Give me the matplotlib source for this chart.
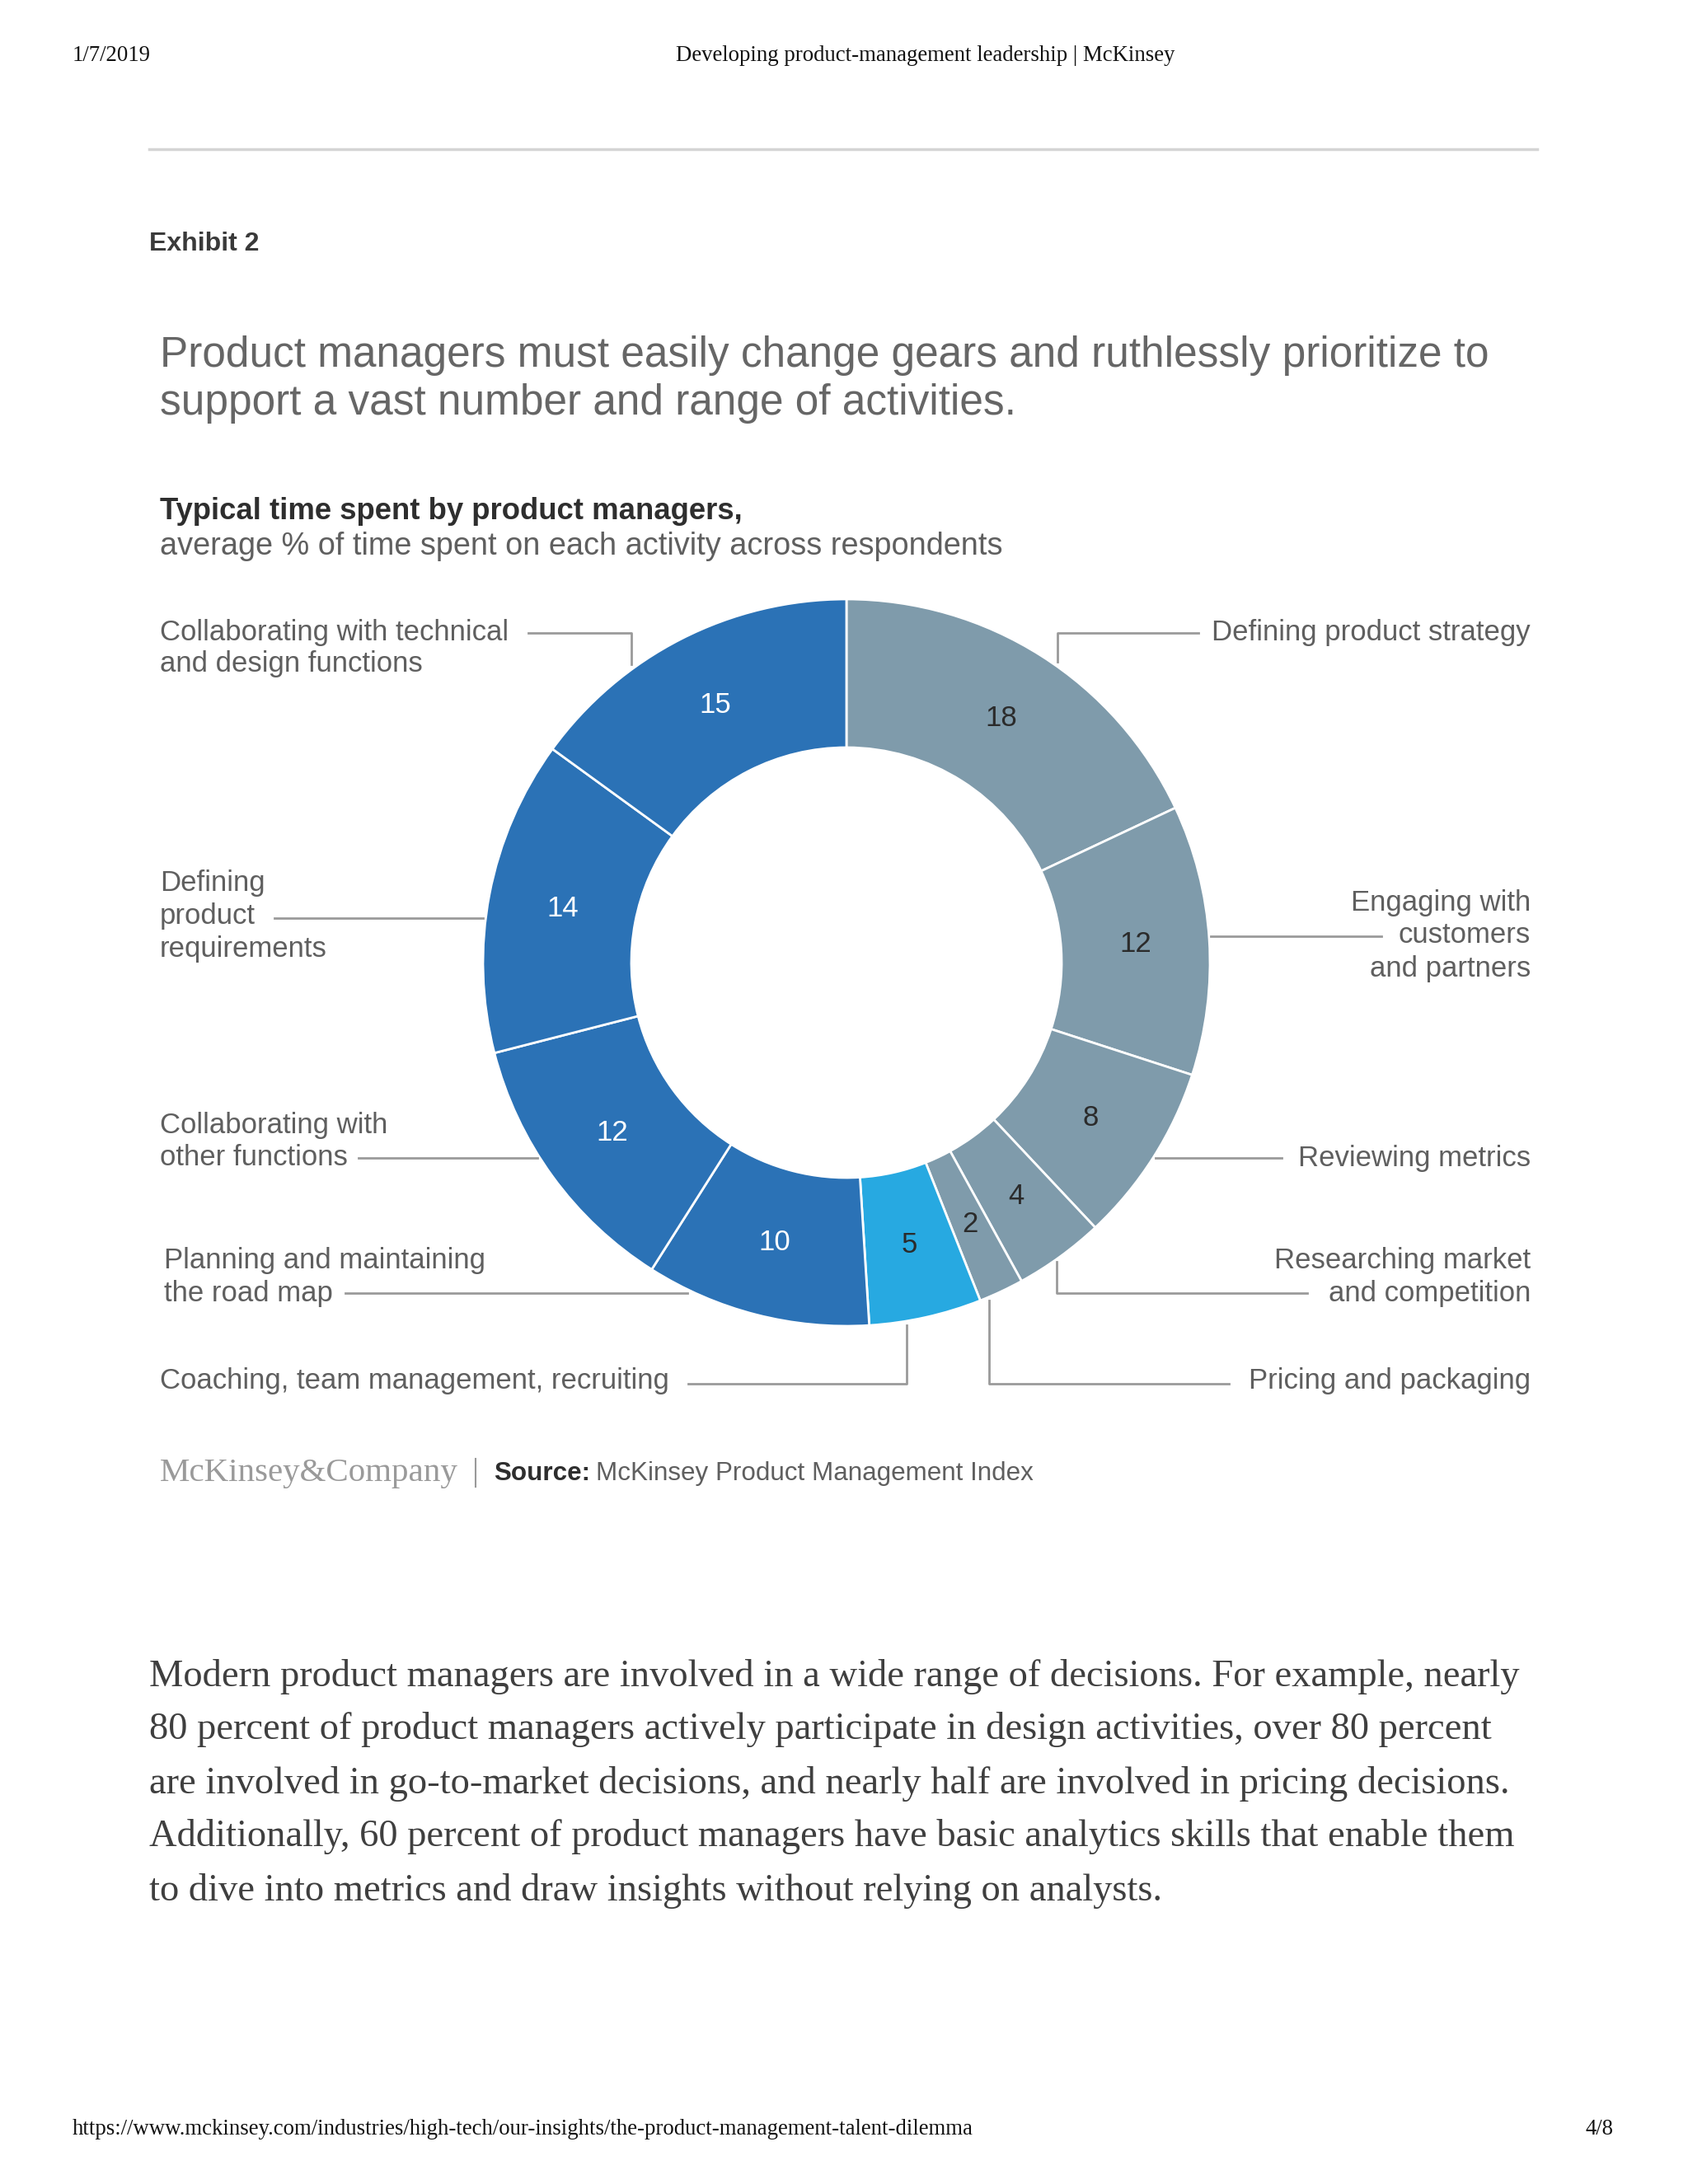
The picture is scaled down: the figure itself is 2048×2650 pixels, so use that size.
import matplotlib
matplotlib.use("Agg")
import matplotlib.pyplot as plt

W, H = 2048, 2650

# chart data, clockwise from 12 o'clock
activities = ["Defining product strategy",
              "Engaging with customers and partners",
              "Reviewing metrics",
              "Researching market and competition",
              "Pricing and packaging",
              "Coaching, team management, recruiting",
              "Planning and maintaining the road map",
              "Collaborating with other functions",
              "Defining product requirements",
              "Collaborating with technical and design functions"]
shares = [18, 12, 8, 4, 2, 5, 10, 12, 14, 15]
slice_colors = ["#7f9bab", "#7f9bab", "#7f9bab", "#7f9bab", "#7f9bab",
                "#27a9e1", "#2b72b6", "#2b72b6", "#2b72b6", "#2b72b6"]
number_colors = ["#2b2b2b"] * 6 + ["white"] * 4

SANS = "Liberation Sans"
SERIF = "Liberation Serif"
GREY_TXT = "#5f5f5f"
LINE = "#9a9a9a"


def Y(y):
    return H - y


fig = plt.figure(figsize=(W / 100, H / 100), dpi=100)
fig.patch.set_facecolor("white")
ax = fig.add_axes([0, 0, 1, 1])

# donut
cx, cy, R, r = 1027, 1168, 441, 261
wedges, texts, autotexts = ax.pie(
    shares, colors=slice_colors, startangle=90, counterclock=False,
    center=(cx, Y(cy)), radius=R,
    wedgeprops=dict(width=R - r, edgecolor="white", linewidth=2),
    autopct=lambda p: f"{p:.0f}", pctdistance=(R + r) / 2 / R,
    textprops=dict(fontsize=25, family=SANS))
for t, c in zip(autotexts, number_colors):
    t.set_color(c)

ax.set_xlim(0, W)
ax.set_ylim(0, H)
ax.set_aspect("auto")
ax.axis("off")

# page header / footer
ax.text(88, Y(67), "1/7/2019", family=SERIF, fontsize=19.3, color="#111", va="center")
ax.text(1123, Y(67), "Developing product-management leadership | McKinsey",
        family=SERIF, fontsize=19.3, color="#111", va="center", ha="center")
ax.plot([181, 1865], [Y(181), Y(181)], color="#d4d4d4", lw=2.5)
ax.text(88, Y(2584), "https://www.mckinsey.com/industries/high-tech/our-insights/the-product-management-talent-dilemma",
        family=SERIF, fontsize=19.3, color="#111", va="center")
ax.text(1957, Y(2584), "4/8", family=SERIF, fontsize=19.3, color="#111", va="center", ha="right")

# exhibit titles
ax.text(181, Y(296), "Exhibit 2", family=SANS, fontsize=23, weight="bold", color="#3a3a3a", va="center")
ax.text(194, Y(432), "Product managers must easily change gears and ruthlessly prioritize to",
        family=SANS, fontsize=37, color="#666666", va="center")
ax.text(194, Y(489), "support a vast number and range of activities.",
        family=SANS, fontsize=37, color="#666666", va="center")
ax.text(194, Y(621), "Typical time spent by product managers,",
        family=SANS, fontsize=26.3, weight="bold", color="#2e2e2e", va="center")
ax.text(194, Y(663), "average % of time spent on each activity across respondents",
        family=SANS, fontsize=27.3, color=GREY_TXT, va="center")


def label(x, ys, lines, ha):
    for yy, s in zip(ys, lines):
        ax.text(x, Y(yy), s, family=SANS, fontsize=25, color=GREY_TXT, va="center", ha=ha)


def leader(xs, ys):
    ax.plot(xs, [Y(v) for v in ys], color=LINE, lw=2)


# right side labels
label(1857, [767], ["Defining product strategy"], "right")
leader([1454, 1283, 1283], [768, 768, 803])
label(1857, [1096, 1135, 1175], ["Engaging with", "customers", "and partners"], "right")
leader([1469, 1676], [1136, 1136])
label(1857, [1405], ["Reviewing metrics"], "right")
leader([1402, 1555], [1405, 1405])
label(1857, [1530, 1570], ["Researching market", "and competition"], "right")
leader([1282, 1282, 1586], [1531, 1569, 1569])
label(1857, [1675], ["Pricing and packaging"], "right")
leader([1200, 1200, 1491], [1578, 1679, 1679])

# left side labels
label(194, [1675], ["Coaching, team management, recruiting"], "left")
leader([835, 1100, 1100], [1679, 1679, 1608])
label(199, [1530, 1570], ["Planning and maintaining", "the road map"], "left")
leader([419, 834], [1569, 1569])
label(194, [1366, 1405], ["Collaborating with", "other functions"], "left")
leader([435, 652], [1405, 1405])
label(194, [1072, 1111, 1152], ["Defining", "product", "requirements"], "left")
leader([333, 586], [1114, 1114])
label(194, [767, 805], ["Collaborating with technical", "and design functions"], "left")
leader([641, 766, 766], [768, 768, 806])

# source line
ax.text(194, Y(1788), "McKinsey&Company", family=SERIF, fontsize=29.5, color="#9a9a9a", va="center")
ax.plot([577, 577], [Y(1770), Y(1804)], color="#9a9a9a", lw=1.5)
ax.text(599, Y(1788), "Source:", family=SANS, fontsize=22.6, weight="bold", color="#2e2e2e", va="center")
ax.text(723, Y(1788), "McKinsey Product Management Index", family=SANS, fontsize=22.6,
        color=GREY_TXT, va="center")

# body paragraph
body = ["Modern product managers are involved in a wide range of decisions. For example, nearly",
        "80 percent of product managers actively participate in design activities, over 80 percent",
        "are involved in go-to-market decisions, and nearly half are involved in pricing decisions.",
        "Additionally, 60 percent of product managers have basic analytics skills that enable them",
        "to dive into metrics and draw insights without relying on analysts."]
for i, s in enumerate(body):
    ax.text(181, Y(2034 + i * 65), s, family=SERIF, fontsize=33.5, color="#3f3f3f", va="center")

fig.savefig("out.png", dpi=100, facecolor="white")
